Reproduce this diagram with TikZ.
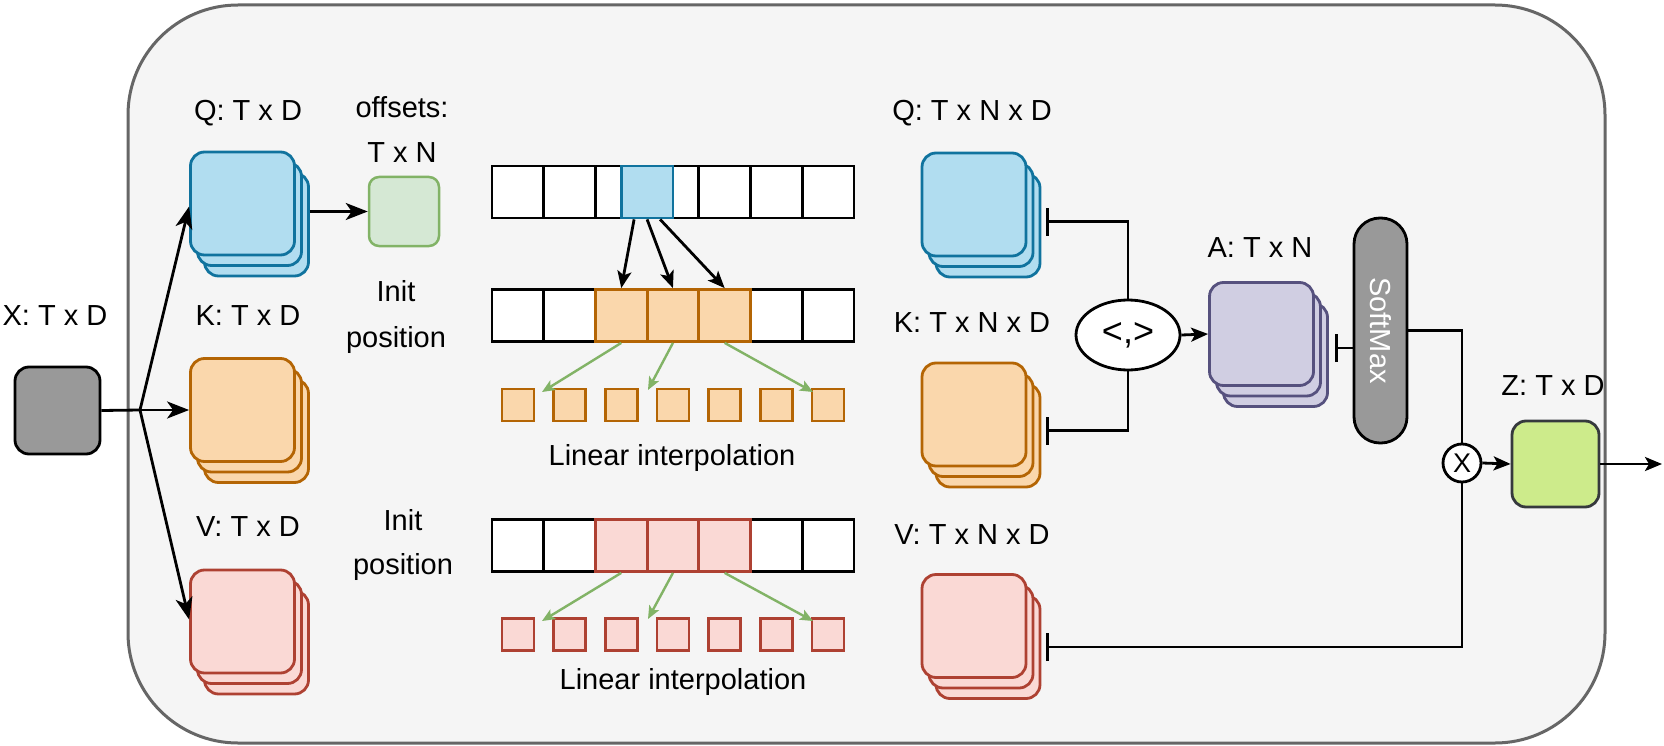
\documentclass[tikz,border=0pt]{standalone}
\usepackage{fontspec}
\setmainfont{Liberation Sans}
\usetikzlibrary{calc,arrows.meta,shapes.geometric}
\definecolor{bgf}{HTML}{F5F5F5}\definecolor{bgd}{HTML}{666666}
\definecolor{bluf}{HTML}{B1DDF0}\definecolor{blud}{HTML}{10739E}
\definecolor{orf}{HTML}{FAD7AC}\definecolor{ord}{HTML}{B46504}
\definecolor{redf}{HTML}{FAD9D5}\definecolor{redd}{HTML}{AE4132}
\definecolor{purf}{HTML}{D0CEE2}\definecolor{purd}{HTML}{56517E}
\definecolor{grf}{HTML}{D5E8D4}\definecolor{grd}{HTML}{82B366}
\definecolor{zf}{HTML}{CDEB8B}\definecolor{zd}{HTML}{36393D}
\definecolor{gry}{HTML}{999999}
\newcommand\mystack[4]{%
  \node[lay,fill=#3,draw=#4] (#13) at ($#2+(14,21)$) {};
  \node[lay,fill=#3,draw=#4] (#12) at ($#2+(7,10.5)$) {};
  \node[lay,fill=#3,draw=#4] (#1) at #2 {};}
\begin{document}
\begin{tikzpicture}[x=1pt,y=-1pt,
  every node/.style={inner sep=0pt,font=\fontsize{29}{34}\selectfont},
  lay/.style={rectangle,rounded corners=14pt,minimum width=104pt,minimum height=103pt,line width=2.8pt},
  cell/.style={rectangle,draw=black,fill=white,line width=2.8pt,minimum width=51.7pt,minimum height=52pt},
  sq/.style={rectangle,line width=2.5pt,minimum size=32pt},
  arr/.style={line width=2.8pt,-{Stealth[length=22pt,width=17pt,inset=6pt]}},
  sarr/.style={line width=2.8pt,-{Stealth[length=17pt,width=14pt,inset=4pt]}},
  garr/.style={line width=2.4pt,draw=grd,-{Stealth[length=13pt,width=11pt,inset=3pt]}},
  bar/.style={line width=2.8pt,-{Bar[width=28pt,line width=2.8pt]}},
  lbl/.style={}]
\useasboundingbox (0,0) rectangle (1664,746);
\draw[fill=bgf,draw=bgd,line width=3pt,rounded corners=110pt] (128,5) rectangle (1605,743);
% X
\node[rectangle,rounded corners=14pt,fill=gry,draw=black,line width=2.8pt,minimum width=85pt,minimum height=87pt] (x) at (57.5,410.5) {};
\node (xl) at (55,316) {X: T x D};
\coordinate (sp) at (140,410);
% left stacks
\mystack{qL}{(242.5,203.5)}{bluf}{blud}
\mystack{kL}{(242.5,410)}{orf}{ord}
\mystack{vL}{(242.5,621.5)}{redf}{redd}
\node at (248,113) {Q: T x D};
\node at (248,316) {K: T x D};
\node at (248,527) {V: T x D};
\draw[line width=2.8pt] (x.east) -- (sp);
\draw[arr] (sp) -- ($(qL.west)+(0,3)$);
\draw[arr] (sp) -- (kL.west);
\draw[arr] (sp) -- ($(vL.west)+(0,-2)$);
% offsets
\node[rectangle,rounded corners=10pt,fill=grf,draw=grd,line width=2.5pt,minimum width=70pt,minimum height=69pt] (off) at (404,211.5) {};
\draw[arr] (qL3.east |- off.west) -- (off.west);
\node at (402,107) {offsets:};
\node at (402,153) {T x N};
\node at (396,291) {Init};
\node at (396,340) {position};
\node at (403,520) {Init};
\node at (403,567) {position};
% rows
\foreach \i in {1,...,7}{
  \pgfmathsetmacro\cx{492+51.7*(\i-0.5)}
  \node[cell] (a\i) at (\cx,192) {};
  \node[cell] (b\i) at (\cx,315.5) {};
  \node[cell] (c\i) at (\cx,545.5) {};
  \node[sq,fill=orf,draw=ord] (s\i) at (\cx,405) {};
  \node[sq,fill=redf,draw=redd] (t\i) at (\cx,634.5) {};
}
\node[cell,fill=bluf,draw=blud] (a4) at (647.1,192) {};
\foreach \i in {3,4,5}{
  \node[cell,fill=orf,draw=ord] (b\i) at ({492+51.7*(\i-0.5)},315.5) {};
  \node[cell,fill=redf,draw=redd] (c\i) at ({492+51.7*(\i-0.5)},545.5) {};
}
\draw[sarr] ($(a4.south)+(-13,0)$) -- ($(b3.north)+(0,0)$);
\draw[sarr] (a4.south) -- (b4.north);
\draw[sarr] ($(a4.south)+(13,0)$) -- ($(b5.north)+(0,0)$);
\coordinate (g1) at (542,392); \coordinate (g2) at (648,390); \coordinate (g3) at (813,392);
\coordinate (h1) at (542,621); \coordinate (h2) at (648,619); \coordinate (h3) at (813,621);
\draw[garr] (b3.south) -- (g1);
\draw[garr] (b4.south) -- (g2);
\draw[garr] (b5.south) -- (g3);
\draw[garr] (c3.south) -- (h1);
\draw[garr] (c4.south) -- (h2);
\draw[garr] (c5.south) -- (h3);
\node at (672,458) {Linear interpolation};
\node at (683,682) {Linear interpolation};
% right stacks
\mystack{qR}{(974,204.5)}{bluf}{blud}
\mystack{kR}{(974,414.5)}{orf}{ord}
\mystack{vR}{(974,626)}{redf}{redd}
\node at (972,113) {Q: T x N x D};
\node at (972,323) {K: T x N x D};
\node at (972,535) {V: T x N x D};
\node[ellipse,draw=black,fill=white,line width=2.8pt,minimum width=104pt,minimum height=70pt,font=\fontsize{36}{40}\selectfont] (ip) at (1128,335) {<,>};
\draw[bar] (ip.north) |- ($(qR3.east)+(5,-4)$);
\draw[bar] (ip.south) |- ($(kR3.east)+(5,-5)$);
% A
\mystack{aR}{(1261.5,334)}{purf}{purd}
\node at (1260,248) {A: T x N};
\draw[sarr] (ip.east) -- (aR.west);
\node[rectangle,rounded corners=26pt,fill=gry,draw=black,line width=2.8pt,minimum width=53pt,minimum height=225pt] (sm) at (1380.5,330.5) {};
\node[rotate=-90,text=white] (smt) at (1380.5,330.5) {SoftMax};
\draw[bar] (sm.west |- 0,348) -- (1335,348);
% mul
\node[circle,draw=black,fill=white,line width=2.8pt,minimum size=38pt,font=\fontsize{27}{30}\selectfont] (mul) at (1462,463) {X};
\draw[line width=2.8pt] (sm.east) -| (mul.north);
\draw[bar] (mul.south) |- ($(vR3.east)+(5,0)$);
\node[rectangle,rounded corners=14pt,fill=zf,draw=zd,line width=2.8pt,minimum width=87pt,minimum height=86pt] (z) at (1555.5,464) {};
\node at (1553,386) {Z: T x D};
\draw[sarr] (mul.east) -- (z.west);
\coordinate (out) at (1662,464);
\draw[sarr] (z.east) -- (out);
\end{tikzpicture}
\end{document}
